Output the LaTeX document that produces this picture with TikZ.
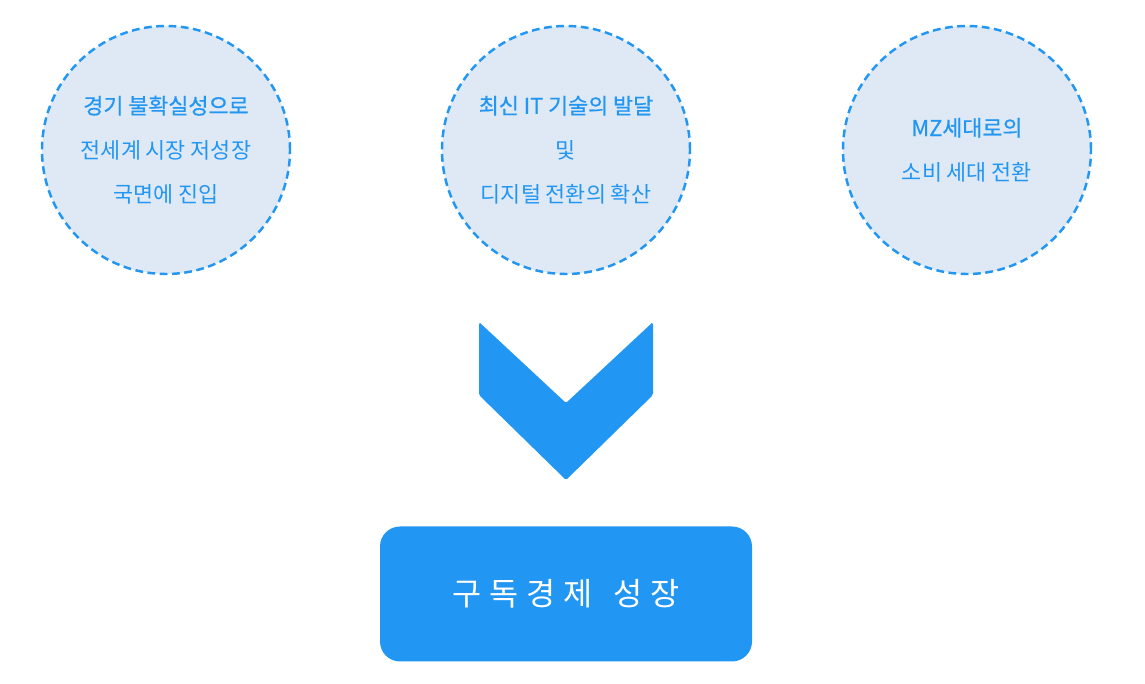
\documentclass[tikz,border=0pt]{standalone}
\usepackage{fontspec}
\newfontfamily\kr{Noto Sans CJK KR}
\usepackage{xcolor}
\definecolor{mainblue}{HTML}{2196F3}
\definecolor{paleblue}{HTML}{DEE9F5}

\begin{document}
\begin{tikzpicture}[
    cause/.style={circle, draw=mainblue, dashed, line width=0.7pt, dash pattern=on 2.2pt off 1.3pt, fill=paleblue, minimum size=2.48cm, align=center, text=mainblue, font=\kr\fontsize{6.2}{12.6}\selectfont},
    result/.style={rectangle, rounded corners=0.2cm, fill=mainblue, minimum width=3.72cm, minimum height=1.35cm, text=white, font=\kr\fontsize{9}{10}\selectfont}
]
    \useasboundingbox[fill=white] (0,0) rectangle (11.45,6.84);
    % causes
    \node[cause] (econ) at (1.66,5.34) {\addfontfeature{FakeBold=0.6}경기 불확실성으로\\전세계 시장 저성장\\국면에 진입};
    \node[cause] (tech) at (5.66,5.34) {\addfontfeature{FakeBold=0.6}최신 IT 기술의 발달\\및\\디지털 전환의 확산};
    \node[cause] (gen) at (9.67,5.34) {\addfontfeature{FakeBold=0.6}MZ세대로의\\소비 세대 전환};

    % chevron
    \fill[mainblue, rounded corners=0.5pt] (4.79,3.62) -- (5.66,2.81) -- (6.53,3.62) -- (6.53,2.89) -- (5.66,2.04) -- (4.79,2.89) -- cycle;

    % result
    \node[result] (growth) at (5.66,0.90) {\addfontfeature{LetterSpace=25}구독경제 \,성장};
\end{tikzpicture}
\end{document}
